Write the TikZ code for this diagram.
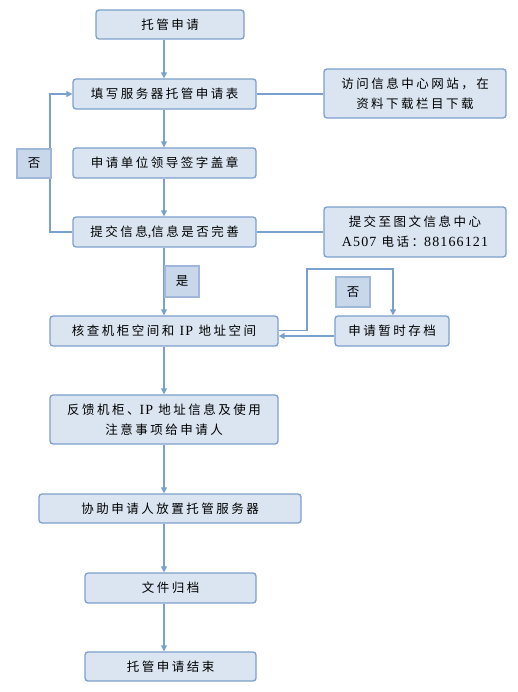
\documentclass[tikz,border=0pt]{standalone}
\usepackage{fontspec}
\newfontfamily\cjk[LetterSpace=20]{Noto Sans CJK SC}
\newfontfamily\ltf[LetterSpace=8]{Liberation Serif}
\newcommand\lt[1]{{\ltf\fontsize{14}{20}\selectfont #1}}
\usetikzlibrary{arrows.meta}
\definecolor{boxfill}{HTML}{DBE5F1}
\definecolor{boxline}{HTML}{7D9FCD}
\definecolor{lblfill}{HTML}{C9D7EA}
\definecolor{lblline}{HTML}{9FB7DA}
\definecolor{connc}{HTML}{7AA0D0}
\begin{document}
\begin{tikzpicture}[x=1pt,y=-1pt,
  box/.style={draw=boxline, fill=boxfill, line width=1.3pt, rounded corners=3pt, inner sep=0pt, align=center, font=\cjk\fontsize{12.5}{20}\selectfont},
  lbl/.style={draw=lblline, fill=lblfill, line width=1.3pt, inner sep=0pt, minimum width=34pt, minimum height=30pt, font=\cjk\fontsize{12.5}{20}\selectfont},
  conn/.style={draw=connc, line width=1.2pt},
  arr/.style={conn, -{Triangle[length=6pt,width=6pt]}}]
\useasboundingbox (0,0) rectangle (517,692);
\coordinate (m) at (164,0);
\node[box, minimum width=148pt, minimum height=29pt] (b1) at (170,24.5) {托管申请};
\node[box, minimum width=183pt, minimum height=30pt] (b2) at (164.5,94) {填写服务器托管申请表};
\node[box, minimum width=182pt, minimum height=49pt] (r1) at (415,93.5) {访问信息中心网站，在\\资料下载栏目下载};
\node[box, minimum width=183pt, minimum height=30pt] (b3) at (164.5,163) {申请单位领导签字盖章};
\node[box, minimum width=183pt, minimum height=30pt] (b4) at (164.5,232) {提交信息\lt{,}信息是否完善};
\node[box, minimum width=182pt, minimum height=50pt] (r2) at (415,232) {提交至图文信息中心\\\lt{A507} 电话：\lt{88166121}};
\node[box, minimum width=228pt, minimum height=30pt] (b5) at (164,331) {核查机柜空间和 \lt{IP} 地址空间};
\node[box, minimum width=114pt, minimum height=30pt] (b6) at (392,331) {申请暂时存档};
\node[box, minimum width=228pt, minimum height=49pt] (b7) at (164,419.5) {反馈机柜、\lt{IP} 地址信息及使用\\注意事项给申请人};
\node[box, minimum width=262pt, minimum height=29pt] (b8) at (170,508.5) {协助申请人放置托管服务器};
\node[box, minimum width=171pt, minimum height=30pt] (b9) at (170.5,588) {文件归档};
\node[box, minimum width=171pt, minimum height=29pt] (b10) at (170.5,666.5) {托管申请结束};
% main flow
\draw[arr] (b1.south -| m) -- (b2.north -| m);
\draw[arr] (b2.south -| m) -- (b3.north -| m);
\draw[arr] (b3.south -| m) -- (b4.north -| m);
\draw[arr] (b4.south -| m) -- (b5.north -| m);
\draw[arr] (b5.south -| m) -- (b7.north -| m);
\draw[arr] (b7.south -| m) -- (b8.north -| m);
\draw[arr] (b8.south -| m) -- (b9.north -| m);
\draw[arr] (b9.south -| m) -- (b10.north -| m);
% side lines
\draw[conn] (b2.east) -- (r1.west |- b2.east);
\draw[conn] (b4.east) -- (r2.west |- b4.east);
% loop back
\coordinate (lx) at (50,0);
\draw[arr] (b4.west) -- (b4.west -| lx) -- (b2.west -| lx) -- (b2.west);
% b5 <-> b6 loop
\coordinate (o1) at (278.5,330.7);
\coordinate (o2) at (307,330.7);
\coordinate (o3) at (307,269);
\coordinate (o4) at (393,269);
\draw[arr] (o1) -- (o2) -- (o3) -- (o4) -- (o4 |- b6.north);
\coordinate (i1) at (0,336);
\draw[arr] (b6.west |- i1) -- (b5.east |- i1);
% labels
\node[lbl, minimum height=29pt] (no1) at (34,163.5) {否};
\node[lbl, minimum height=31pt] (yes) at (182,281.5) {是};
\node[lbl] (no2) at (353,292) {否};
\end{tikzpicture}
\end{document}
